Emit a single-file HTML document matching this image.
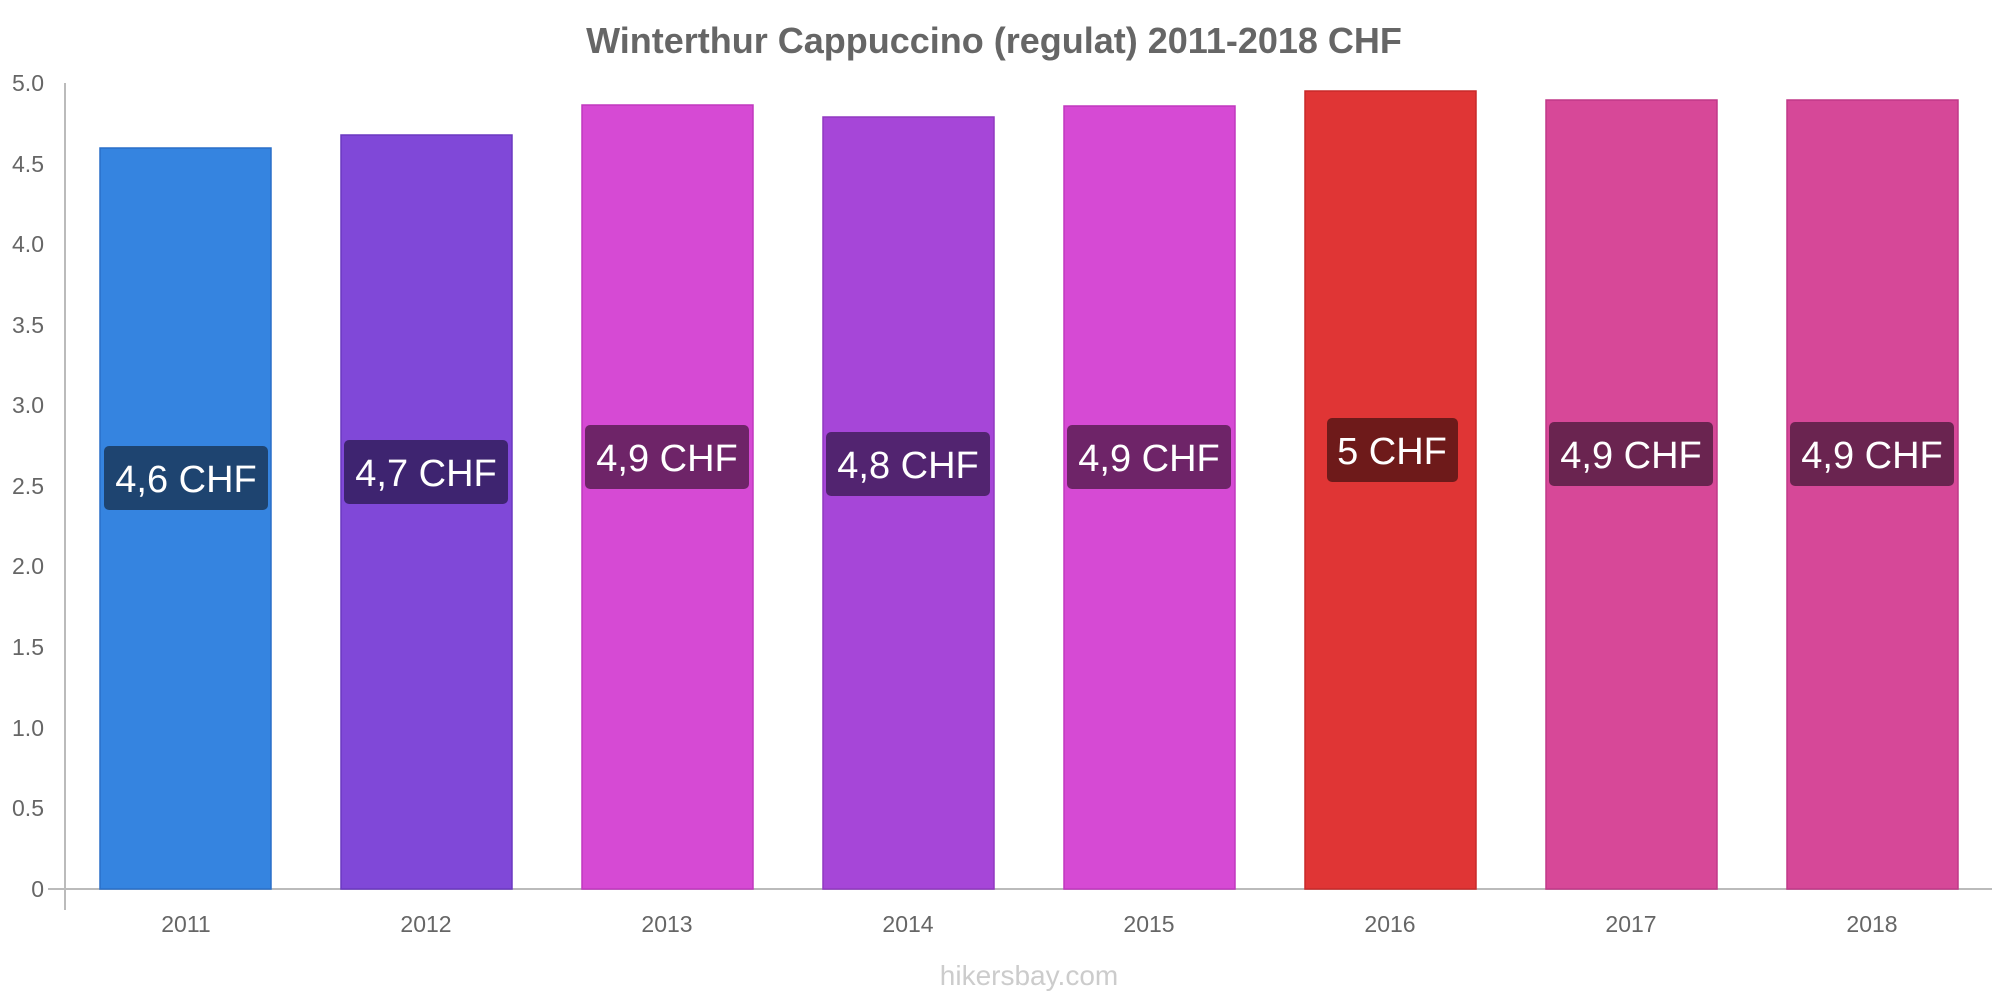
<!DOCTYPE html>
<html><head><meta charset="utf-8"><style>
html,body{margin:0;padding:0;background:#fff}
svg{display:block}
text{font-family:"Liberation Sans",sans-serif}
</style></head><body>
<svg width="2000" height="1000" viewBox="0 0 2000 1000" xmlns="http://www.w3.org/2000/svg">
<text x="994" y="53" text-anchor="middle" font-size="36" font-weight="bold" fill="#666">Winterthur Cappuccino (regulat) 2011-2018 CHF</text>
<g font-size="23" fill="#666" text-anchor="end">
<text x="44" y="91">5.0</text>
<text x="44" y="172">4.5</text>
<text x="44" y="252">4.0</text>
<text x="44" y="333">3.5</text>
<text x="44" y="413">3.0</text>
<text x="44" y="494">2.5</text>
<text x="44" y="574">2.0</text>
<text x="44" y="655">1.5</text>
<text x="44" y="736">1.0</text>
<text x="44" y="816">0.5</text>
<text x="44" y="897">0</text>
</g>
<line x1="65" y1="83" x2="65" y2="910" stroke="#bbb" stroke-width="2"/>
<line x1="48" y1="889" x2="1992" y2="889" stroke="#bbb" stroke-width="2"/>
<g stroke-width="1.5">
<rect x="100" y="148" width="171" height="741" fill="#3584e0" stroke="#2a6fc8"/>
<rect x="341" y="135" width="171" height="754" fill="#8048d8" stroke="#6a38c0"/>
<rect x="582" y="105" width="171" height="784" fill="#d64ad4" stroke="#c038be"/>
<rect x="823" y="117" width="171" height="772" fill="#a646d8" stroke="#9038c0"/>
<rect x="1064" y="106" width="171" height="783" fill="#d64ad4" stroke="#c038be"/>
<rect x="1305" y="91" width="171" height="798" fill="#e03535" stroke="#c82a2a"/>
<rect x="1546" y="100" width="171" height="789" fill="#d74898" stroke="#c03888"/>
<rect x="1787" y="100" width="171" height="789" fill="#d64898" stroke="#c03888"/>
</g>
<g>
<rect x="104" y="446" width="164" height="64" rx="5" fill="#1e4470"/>
<rect x="344" y="440" width="164" height="64" rx="5" fill="#3e2470"/>
<rect x="585" y="425" width="164" height="64" rx="5" fill="#6e2468"/>
<rect x="826" y="432" width="164" height="64" rx="5" fill="#522470"/>
<rect x="1067" y="425" width="164" height="64" rx="5" fill="#6e2468"/>
<rect x="1327" y="418" width="131" height="64" rx="5" fill="#6e1a1a"/>
<rect x="1549" y="422" width="164" height="64" rx="5" fill="#6a2450"/>
<rect x="1790" y="422" width="164" height="64" rx="5" fill="#6a2450"/>
</g>
<g font-size="38" fill="#fff" text-anchor="middle">
<text x="186" y="492">4,6 CHF</text>
<text x="426" y="486">4,7 CHF</text>
<text x="667" y="471">4,9 CHF</text>
<text x="908" y="478">4,8 CHF</text>
<text x="1149" y="471">4,9 CHF</text>
<text x="1392" y="464">5 CHF</text>
<text x="1631" y="468">4,9 CHF</text>
<text x="1872" y="468">4,9 CHF</text>
</g>
<g font-size="23" fill="#666" text-anchor="middle">
<text x="186" y="932">2011</text>
<text x="426" y="932">2012</text>
<text x="667" y="932">2013</text>
<text x="908" y="932">2014</text>
<text x="1149" y="932">2015</text>
<text x="1390" y="932">2016</text>
<text x="1631" y="932">2017</text>
<text x="1872" y="932">2018</text>
</g>
<text x="1029" y="985" text-anchor="middle" font-size="28" fill="#ccc">hikersbay.com</text>
</svg>
</body></html>
